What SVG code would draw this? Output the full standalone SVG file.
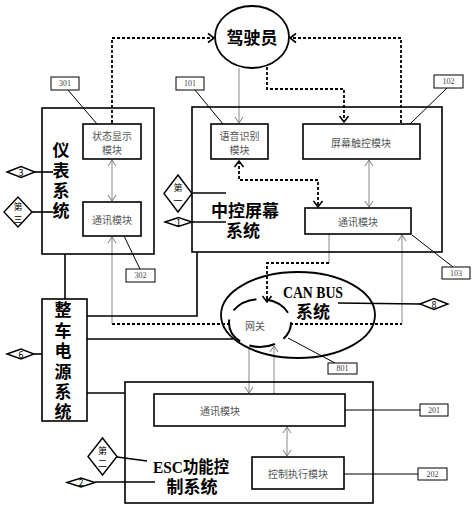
<svg xmlns="http://www.w3.org/2000/svg" width="474" height="508" viewBox="0 0 474 508">
<style>
.box{fill:#fff;stroke:#000;stroke-width:1.6}
.sys{fill:none;stroke:#000;stroke-width:1.6}
.lbl{fill:#fff;stroke:#000;stroke-width:1}
.lt{font-family:"Liberation Serif",serif;font-size:8px;fill:#444;text-anchor:middle;dominant-baseline:central}
.mt{font-family:"Noto Sans CJK SC",sans-serif;font-size:10px;fill:#555;text-anchor:middle;dominant-baseline:central}
.big{font-family:"Liberation Serif","Noto Sans CJK SC",serif;font-size:17px;font-weight:bold;fill:#000;text-anchor:middle;dominant-baseline:central}
.dt{font-family:"Noto Sans CJK SC",sans-serif;font-size:9px;fill:#000;text-anchor:middle;dominant-baseline:central}
.blk{fill:none;stroke:#000;stroke-width:1.6}
.thin{fill:none;stroke:#000;stroke-width:1}
.gray{fill:none;stroke:#888;stroke-width:1}
.dash{fill:none;stroke:#000;stroke-width:1.8;stroke-dasharray:3 2}
.dia{fill:#fff;stroke:#000;stroke-width:1.4}
</style>
<defs>
<marker id="ag" markerUnits="userSpaceOnUse" markerWidth="10" markerHeight="10" refX="6" refY="4" orient="auto-start-reverse" overflow="visible">
<path d="M0,0 L6,4 L0,8" fill="none" stroke="#777" stroke-width="1"/>
</marker>
<marker id="ab" markerUnits="userSpaceOnUse" markerWidth="10" markerHeight="10" refX="6" refY="4.5" orient="auto-start-reverse" overflow="visible">
<path d="M0,0 L6,4.5 L0,9" fill="none" stroke="#000" stroke-width="1.6" stroke-dasharray="none"/>
</marker>
</defs>

<g id="connectors">
<path class="dash" d="M112,123 V38 H214" marker-end="url(#ab)"/>
<path class="dash" d="M401,123 V38 H290" marker-end="url(#ab)"/>
<path class="dash" d="M267,67 V89 H344 V122" marker-end="url(#ab)"/>
<path class="dash" d="M239,161 V180 H318 V207" marker-start="url(#ab)" marker-end="url(#ab)"/>
<path class="gray" d="M329,234 V263"/>
<path class="dash" d="M329,263 H267 V302" marker-end="url(#ab)"/>
<path class="dash" d="M230,324 H112"/>
<path class="gray" d="M112,324 V237" marker-end="url(#ag)"/>
<path class="dash" d="M290,324 H402"/>
<path class="gray" d="M402,324 V235" marker-end="url(#ag)"/>
<path class="gray" d="M239,68 V123" marker-end="url(#ag)"/>
<path class="gray" d="M112,160 V201" marker-start="url(#ag)" marker-end="url(#ag)"/>
<path class="gray" d="M369,160 V207" marker-start="url(#ag)" marker-end="url(#ag)"/>
<path class="gray" d="M249,349 V393" marker-end="url(#ag)"/>
<path class="gray" d="M274,394 V346" marker-end="url(#ag)"/>
<path class="gray" d="M287,427 V456" marker-start="url(#ag)" marker-end="url(#ag)"/>
<path class="blk" d="M65,254 V299"/>
<path class="blk" d="M197,252 V316 H87"/>
<path class="blk" d="M87,339 H233"/>
<path class="blk" d="M87,393 H125"/>
<path class="thin" d="M68,90 L97,124"/>
<path class="thin" d="M195,90 L223,124"/>
<path class="thin" d="M447,88 L410,124"/>
<path class="thin" d="M124,236 L140,269"/>
<path class="thin" d="M412,235 L453,267"/>
<path class="thin" d="M288,338 L335,363"/>
<path class="thin" d="M345,410 H420"/>
<path class="thin" d="M344,474 H418"/>
<path class="blk" d="M338,303 L420,304"/>
<path class="blk" d="M35,172 H53"/>
<path class="blk" d="M32,212 H53"/>
<path class="blk" d="M34,354 H52"/>
<path class="blk" d="M192,193 H226"/>
<path class="blk" d="M192,222 H226"/>
<path class="blk" d="M117,457 L147,461"/>
<path class="blk" d="M95,482 H155"/>
</g>

<g id="driver">
<ellipse cx="252" cy="37" rx="37" ry="31" fill="#fff" stroke="#000" stroke-width="1.8"/>
<text class="big" x="252" y="38" font-size="16">驾驶员</text>
</g>

<g id="meter-system">
<rect class="sys" x="42" y="108" width="112" height="146"/>
<text class="big" x="61" y="150">仪</text>
<text class="big" x="61" y="171">表</text>
<text class="big" x="61" y="191">系</text>
<text class="big" x="61" y="211">统</text>
</g>
<g id="status-display">
<rect class="box" x="83" y="124" width="58" height="35"/>
<text class="mt" x="112" y="135">状态显示</text>
<text class="mt" x="112" y="149">模块</text>
</g>
<g id="meter-comm">
<rect class="box" x="83" y="202" width="58" height="34"/>
<text class="mt" x="112" y="219">通讯模块</text>
</g>

<g id="central-screen">
<rect class="sys" x="192" y="107" width="250" height="145"/>
<text class="big" x="245" y="211">中控屏幕</text>
<text class="big" x="243" y="231">系统</text>
</g>
<g id="speech">
<rect class="box" x="211" y="124" width="57" height="35"/>
<text class="mt" x="239.5" y="135">语音识别</text>
<text class="mt" x="239.5" y="149">模块</text>
</g>
<g id="touch">
<rect class="box" x="303" y="124" width="117" height="35"/>
<text class="mt" x="361" y="142">屏幕触控模块</text>
</g>
<g id="central-comm">
<rect class="box" x="305" y="208" width="106" height="26"/>
<text class="mt" x="358" y="221">通讯模块</text>
</g>

<g id="power">
<rect class="box" x="42" y="299" width="45" height="122"/>
<text class="big" x="63" y="310">整</text>
<text class="big" x="63" y="331">车</text>
<text class="big" x="63" y="351">电</text>
<text class="big" x="63" y="372">源</text>
<text class="big" x="63" y="392">系</text>
<text class="big" x="63" y="412">统</text>
</g>

<g id="canbus">
<ellipse cx="298" cy="315" rx="77" ry="43" fill="none" stroke="#000" stroke-width="1.8"/>
<text class="big" x="313" y="292" font-size="18" textLength="60" lengthAdjust="spacingAndGlyphs">CAN BUS</text>
<text class="big" x="313" y="312" font-size="16">系统</text>
</g>
<g id="gateway">
<ellipse cx="260" cy="323" rx="31" ry="24" fill="none" stroke="#000" stroke-width="2" stroke-dasharray="26 10" stroke-dashoffset="8"/>
<text class="mt" x="255" y="325" fill="#777">网关</text>
</g>

<g id="esc">
<rect class="sys" x="125" y="382" width="248" height="121"/>
<text class="big" x="191" y="467" font-size="16" textLength="76" lengthAdjust="spacingAndGlyphs">ESC功能控</text>
<text class="big" x="192" y="487" font-size="16">制系统</text>
</g>
<g id="esc-comm">
<rect class="box" x="154" y="394" width="191" height="32"/>
<text class="mt" x="220" y="410">通讯模块</text>
</g>
<g id="exec">
<rect class="box" x="252" y="457" width="92" height="32"/>
<text class="mt" x="298" y="473">控制执行模块</text>
</g>

<g id="labels">
<rect class="lbl" x="51" y="77" width="28" height="13"/><text class="lt" x="65" y="83.5">301</text>
<rect class="lbl" x="176" y="77" width="28" height="13"/><text class="lt" x="190" y="83.5">101</text>
<rect class="lbl" x="434" y="75" width="29" height="13"/><text class="lt" x="448.5" y="81.5">102</text>
<rect class="lbl" x="126" y="269" width="29" height="13"/><text class="lt" x="140.5" y="275.5">302</text>
<rect class="lbl" x="442" y="267" width="28" height="12"/><text class="lt" x="456" y="273">103</text>
<rect class="lbl" x="328" y="363" width="29" height="11"/><text class="lt" x="342.5" y="368.5">801</text>
<rect class="lbl" x="420" y="404" width="28" height="12"/><text class="lt" x="434" y="410">201</text>
<rect class="lbl" x="418" y="468" width="29" height="12"/><text class="lt" x="432.5" y="474">202</text>
</g>

<g id="diamonds">
<g id="d3"><polygon class="dia" points="7,172 21,166.5 35,172 21,177.5"/><text class="dt" x="21" y="172">3</text></g>
<g id="d-third"><polygon class="dia" points="4,212 18,197 32,212 18,227"/><text class="dt" x="18" y="206">第</text><text class="dt" x="18" y="219">三</text></g>
<g id="d6"><polygon class="dia" points="7,354 21,349 34,354 21,359"/><text class="dt" x="21" y="354">6</text></g>
<g id="d-first"><polygon class="dia" points="164,193.5 178,175 192,193.5 178,212"/><text class="dt" x="178" y="187">第</text><text class="dt" x="178" y="200">一</text></g>
<g id="d1"><polygon class="dia" points="165,222 178.5,217.5 192,222 178.5,226.5"/><text class="dt" x="178.5" y="222">1</text></g>
<g id="d-second"><polygon class="dia" points="88,456.5 102.5,438 117,456.5 102.5,475"/><text class="dt" x="102.5" y="450">第</text><text class="dt" x="102.5" y="463">二</text></g>
<g id="d2"><polygon class="dia" points="67,482.5 81,478 95,482.5 81,487"/><text class="dt" x="81" y="482.5">2</text></g>
<g id="d8"><polygon class="dia" points="420,304 434,298.5 448,304 434,309.5"/><text class="dt" x="434" y="304">8</text></g>
</g>
</svg>
